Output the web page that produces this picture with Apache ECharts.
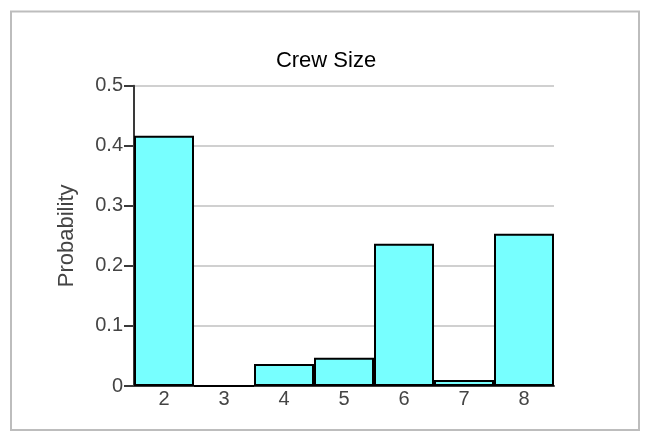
<!DOCTYPE html>
<html>
<head>
<meta charset="utf-8">
<script src="https://cdn.jsdelivr.net/npm/echarts@6/dist/echarts.min.js"></script>
<style>
  html, body { margin: 0; padding: 0; background: #fff; }
  #chart { width: 666px; height: 446px; }
</style>
</head>
<body>
<div id="chart"></div>
<script>
// crew size categories and their probabilities
var crewSizes = ['2', '3', '4', '5', '6', '7', '8'];
var probabilities = [0.4167, 0, 0.0367, 0.047, 0.2367, 0.01, 0.2533];
var yTicks = [0, 0.1, 0.2, 0.3, 0.4, 0.5];

var myChart = echarts.init(document.getElementById('chart'));

var font = 'Liberation Sans, Arial, sans-serif';

var option = {
    animation: false,
    backgroundColor: '#fff',
    graphic: [{
        type: 'rect',
        shape: { x: 11, y: 11.5, width: 628, height: 418.5 },
        style: { fill: 'none', stroke: '#bdbdbd', lineWidth: 2 }
    }],
    title: {
        text: 'Crew Size',
        left: 321,
        textAlign: 'center',
        top: 45,
        textStyle: {
            fontFamily: font,
            fontSize: 22,
            fontWeight: 'normal',
            color: '#000'
        }
    },
    grid: {
        left: 134,
        right: 112,
        top: 85.7,
        bottom: 60,
        containLabel: false
    },
    xAxis: {
        type: 'category',
        data: crewSizes,
        axisLine: { lineStyle: { color: '#3a3a3a', width: 2 } },
        axisTick: { show: false },
        axisLabel: {
            color: '#444',
            fontSize: 20,
            fontFamily: font,
            margin: 3
        },
        splitLine: { show: false }
    },
    yAxis: {
        type: 'value',
        min: yTicks[0],
        max: yTicks[yTicks.length - 1],
        interval: 0.1,
        name: 'Probability',
        nameLocation: 'middle',
        nameGap: 56,
        nameTextStyle: {
            color: '#444',
            fontSize: 22,
            fontFamily: font
        },
        axisLine: { show: true, lineStyle: { color: '#3a3a3a', width: 2 } },
        axisTick: { show: true, length: 10, lineStyle: { color: '#3a3a3a', width: 2 } },
        axisLabel: {
            color: '#444',
            fontSize: 20,
            fontFamily: font,
            margin: 11,
            formatter: function (v) {
                return v === 0 ? '0' : String(Math.round(v * 10) / 10);
            }
        },
        splitLine: { lineStyle: { color: '#c0c0c0', width: 1.5 } }
    },
    series: [{
        type: 'bar',
        data: probabilities,
        barCategoryGap: '0%',
        itemStyle: {
            color: '#77ffff',
            borderColor: '#000',
            borderWidth: 2
        },
        z: 3
    }]
};

myChart.setOption(option);
</script>
</body>
</html>
